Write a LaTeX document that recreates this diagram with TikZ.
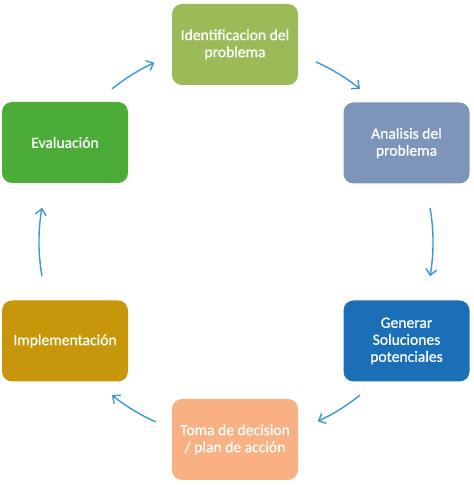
\documentclass[tikz,border=0pt]{standalone}
\usepackage{fontspec}
\setmainfont{Carlito}
\newfontfamily\boxfont[FakeBold=0.8]{Carlito}
\usetikzlibrary{arrows.meta}
\definecolor{cIdent}{HTML}{9BBB59}
\definecolor{cEval}{HTML}{4CAC38}
\definecolor{cAnal}{HTML}{7D95BA}
\definecolor{cGen}{HTML}{1B6FB6}
\definecolor{cToma}{HTML}{F9B183}
\definecolor{cImpl}{HTML}{C8960A}
\definecolor{cArrow}{HTML}{3A98D6}
\begin{document}
\begin{tikzpicture}[x=1pt,y=1pt,
  box/.style={rounded corners=10pt, minimum width=126pt, minimum height=81pt,
    align=center, text=white, font=\boxfont\fontsize{15.6}{17}\selectfont, inner sep=2pt},
  arr/.style={cArrow, line width=1.4pt, -{Straight Barb[length=6pt,width=11pt]}}]
\useasboundingbox (0,0) rectangle (474,485);
\node[box, fill=cIdent] (ident) at (235,440.5) {Identificacion del\\problema};
\node[box, fill=cEval] (eval) at (65,342.5) {Evaluación};
\node[box, fill=cAnal] (anal) at (406.5,342) {Analisis del\\problema};
\node[box, fill=cImpl] (impl) at (65,144) {Implementación};
\node[box, fill=cGen] (gen) at (406.5,144) {Generar\\Soluciones\\potenciales};
\node[box, fill=cToma] (toma) at (235,45.5) {Toma de decision\\/ plan de acción};
\coordinate (ctr) at (236,243);
\coordinate (s1) at ([shift={(129:197)}]ctr);
\coordinate (s2) at ([shift={(66:197)}]ctr);
\coordinate (s3) at ([shift={(10:197)}]ctr);
\coordinate (s4) at ([shift={(-51:197)}]ctr);
\coordinate (s5) at ([shift={(-114:197)}]ctr);
\coordinate (s6) at ([shift={(190:197)}]ctr);
\draw[arr] (s1) arc[start angle=129, end angle=114.5, radius=197];
\draw[arr] (s2) arc[start angle=66, end angle=51, radius=197];
\draw[arr] (s3) arc[start angle=10, end angle=-10, radius=197];
\draw[arr] (s4) arc[start angle=-51, end angle=-65.5, radius=197];
\draw[arr] (s5) arc[start angle=-114, end angle=-129, radius=197];
\draw[arr] (s6) arc[start angle=190, end angle=170, radius=197];
\end{tikzpicture}
\end{document}
